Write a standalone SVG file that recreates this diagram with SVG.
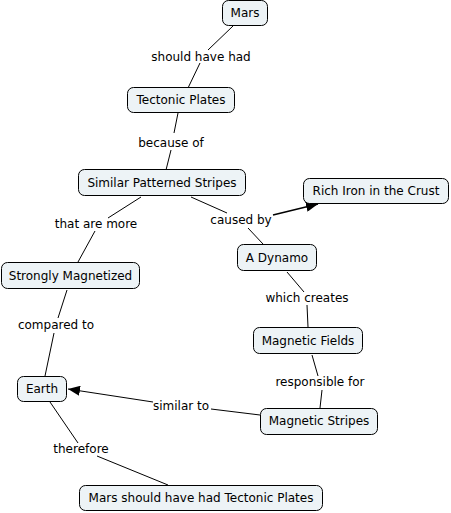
<svg xmlns="http://www.w3.org/2000/svg" width="451" height="513" viewBox="0 0 451 513">
<style>
.n rect{fill:#edf3f6;stroke:#000;stroke-width:1}
text{font-family:"DejaVu Sans",Verdana,sans-serif;font-size:12px;fill:#000;text-anchor:middle}
.c line{stroke:#000;stroke-width:1}
.a{stroke:#000;stroke-width:1.5;fill:none}
</style>
<defs>
<marker id="ah" markerWidth="12" markerHeight="10" refX="12" refY="5" orient="auto" markerUnits="userSpaceOnUse">
<path d="M0,0 L12,5 L0,10 Z" fill="#000"/>
</marker>
</defs>
<rect width="451" height="513" fill="#fff"/>
<g class="c" id="connectors">
<line x1="233" y1="26" x2="208" y2="50"/>
<line x1="200" y1="63" x2="188" y2="88"/>
<line x1="178" y1="113" x2="174" y2="133"/>
<line x1="171" y1="150" x2="166" y2="170"/>
<line x1="141" y1="197" x2="108" y2="218"/>
<line x1="95" y1="231" x2="78" y2="262"/>
<line x1="191" y1="197" x2="227" y2="213"/>
<line x1="273" y1="215" x2="318" y2="204" style="stroke-width:1.5" marker-end="url(#ah)"/>
<line x1="248" y1="228" x2="263" y2="244"/>
<line x1="287" y1="272" x2="304" y2="292"/>
<line x1="307" y1="305" x2="308" y2="327"/>
<line x1="67" y1="290" x2="58" y2="318"/>
<line x1="54" y1="333" x2="45" y2="376"/>
<line x1="312" y1="355" x2="318" y2="376"/>
<line x1="322" y1="390" x2="320" y2="408"/>
<line x1="260" y1="415" x2="211" y2="409"/>
<line x1="153" y1="402" x2="68" y2="389" marker-end="url(#ah)"/>
<line x1="50" y1="402" x2="78" y2="443"/>
<line x1="97" y1="456" x2="168" y2="485"/>
</g>
<g id="labels">
<text x="201" y="61">should have had</text>
<text x="171" y="147">because of</text>
<text x="96" y="228">that are more</text>
<text x="241" y="224">caused by</text>
<text x="307" y="302">which creates</text>
<text x="56" y="329">compared to</text>
<text x="320" y="386">responsible for</text>
<text x="181" y="410">similar to</text>
<text x="81" y="453">therefore</text>
</g>
<g class="n" id="n-mars"><rect x="222.5" y="0.5" width="45" height="25" rx="6"/><text x="245" y="17">Mars</text></g>
<g class="n" id="n-tectonic"><rect x="127.5" y="87.5" width="107" height="25" rx="6"/><text x="181" y="104">Tectonic Plates</text></g>
<g class="n" id="n-sps"><rect x="78.5" y="169.5" width="167" height="26" rx="6"/><text x="162" y="187">Similar Patterned Stripes</text></g>
<g class="n" id="n-iron"><rect x="303.5" y="178.5" width="145" height="25" rx="6"/><text x="376" y="195">Rich Iron in the Crust</text></g>
<g class="n" id="n-dynamo"><rect x="237.5" y="244.5" width="79" height="26" rx="6"/><text x="277" y="262">A Dynamo</text></g>
<g class="n" id="n-strong"><rect x="1.5" y="262.5" width="138" height="26" rx="6"/><text x="70.5" y="280">Strongly Magnetized</text></g>
<g class="n" id="n-fields"><rect x="253.5" y="327.5" width="109" height="26" rx="6"/><text x="308" y="345">Magnetic Fields</text></g>
<g class="n" id="n-earth"><rect x="17.5" y="376.5" width="49" height="25" rx="6"/><text x="42" y="393">Earth</text></g>
<g class="n" id="n-mstripes"><rect x="260.5" y="408.5" width="117" height="26" rx="6"/><text x="319" y="425">Magnetic Stripes</text></g>
<g class="n" id="n-final"><rect x="79.5" y="485.5" width="243" height="25" rx="6"/><text x="201" y="502">Mars should have had Tectonic Plates</text></g>
</svg>
